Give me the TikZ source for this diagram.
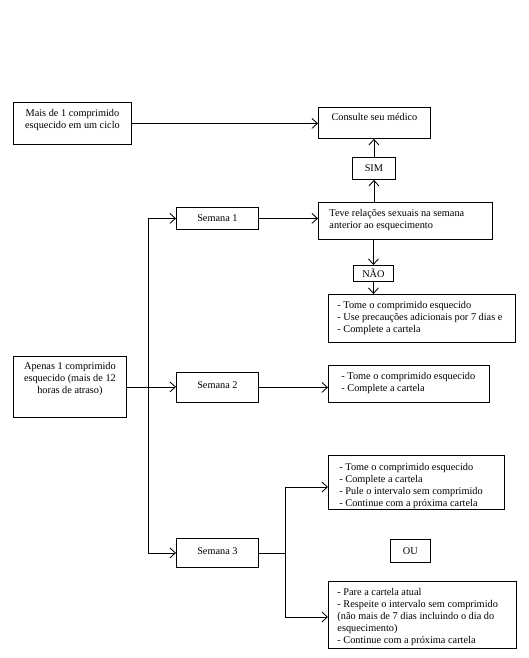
\documentclass[tikz,border=0pt]{standalone}
\usepackage{fontspec}
\setmainfont{Liberation Serif}
\usetikzlibrary{arrows.meta}
\newcommand\bxc[4]{\parbox[c][#2][t]{#1}{\vspace*{\dimexpr#3-8.4pt\relax}\centering\strut #4\par}}
\newcommand\bxl[5]{\parbox[c][#2][t]{#1}{\vspace*{\dimexpr#3-8.4pt\relax}\raggedright\leftskip=#4\relax\strut #5\par}}
\begin{document}
\begin{tikzpicture}[x=1pt,y=-1pt,
  bx/.style={draw, line width=0.85pt, inner sep=0pt, anchor=north west, font=\fontsize{10.3}{12}\selectfont},
  arr/.style={line width=0.85pt, -{Straight Barb[length=5.5pt,width=10pt]}},
  ln/.style={line width=0.85pt}]
\useasboundingbox (0,0) rectangle (529,658);
\node[bx] (mais) at (13,102) {\bxc{118pt}{42pt}{14.5pt}{Mais de 1 comprimido\\esquecido em um ciclo}};
\node[bx] (consulte) at (318,107) {\bxc{112pt}{31pt}{13.5pt}{Consulte seu médico}};
\node[bx] (sim) at (352,157) {\bxc{43pt}{22pt}{14.5pt}{SIM}};
\node[bx] (teve) at (318,202) {\bxl{174pt}{37pt}{14.5pt}{11pt}{Teve relações sexuais na semana\\anterior ao esquecimento}};
\node[bx] (sem1) at (176,207) {\bxc{82pt}{22pt}{14.5pt}{Semana 1}};
\node[bx] (nao) at (353,265) {\bxc{40pt}{16pt}{12pt}{NÃO}};
\node[bx] (list1) at (328,294) {\bxl{187pt}{48pt}{14.3pt}{9pt}{- Tome o comprimido esquecido\\- Use precauções adicionais por 7 dias e\\- Complete a cartela}};
\node[bx] (apenas) at (13,356) {\bxc{113pt}{61pt}{13pt}{Apenas 1 comprimido\\esquecido (mais de 12\\horas de atraso)}};
\node[bx] (sem2) at (176,372) {\bxc{82pt}{30pt}{16.5pt}{Semana 2}};
\node[bx] (list2) at (328,365) {\bxl{161pt}{37pt}{14.5pt}{13pt}{- Tome o comprimido esquecido\\- Complete a cartela}};
\node[bx] (list3) at (328,455) {\bxl{176pt}{54pt}{15.3pt}{11pt}{- Tome o comprimido esquecido\\- Complete a cartela\\- Pule o intervalo sem comprimido\\- Continue com a próxima cartela}};
\node[bx] (sem3) at (176,538) {\bxc{82pt}{29pt}{16pt}{Semana 3}};
\node[bx] (ou) at (390,539) {\bxc{40pt}{23pt}{15.5pt}{OU}};
\node[bx] (list4) at (328,581) {\bxl{188pt}{67pt}{14.5pt}{9pt}{- Pare a cartela atual\\- Respeite o intervalo sem comprimido\\(não mais de 7 dias incluindo o dia do\\esquecimento)\\- Continue com a próxima cartela}};
% connectors
\draw[arr] (mais.east) -- (mais.east -| consulte.west);
\draw[arr] (teve.north -| sim.south) -- (sim.south);
\draw[arr] (sim.north) -- (sim.north |- consulte.south);
\draw[arr] (sem1.east) -- (sem1.east -| teve.west);
\draw[arr] (teve.south -| nao.north) -- (nao.north);
\draw[arr] (nao.south) -- (nao.south |- list1.north);
\coordinate (tk) at (148,0);
\draw[arr] (tk |- sem3.west) -- (tk |- sem1.west) -- (sem1.west);
\draw[arr] (tk |- sem3.west) -- (sem3.west);
\draw[arr] (apenas.east) -- (apenas.east -| sem2.west);
\draw[arr] (sem2.east) -- (sem2.east -| list2.west);
\coordinate (j1) at (285,487);
\coordinate (j2) at (285,617);
\draw[ln] (sem3.east) -- (sem3.east -| j1);
\draw[arr] (j2) -- (j1) -- (j1 -| list3.west);
\draw[arr] (j1) -- (j2) -- (j2 -| list4.west);
\end{tikzpicture}
\end{document}
